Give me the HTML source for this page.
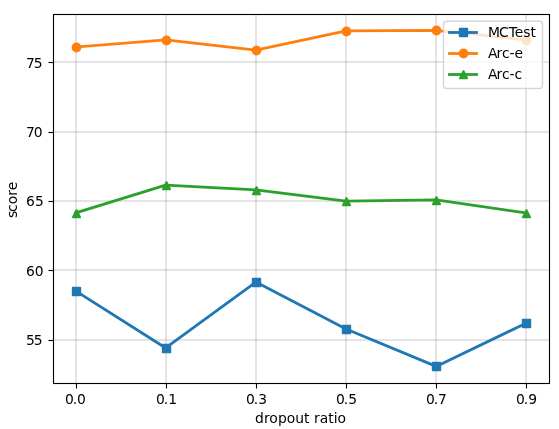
<!DOCTYPE html>
<html lang="en"><head><meta charset="utf-8"><title>score vs dropout ratio</title>
<style>html,body{margin:0;padding:0;background:#fff}svg{display:block}</style></head>
<body>
<svg width="559" height="429" viewBox="0 0 559 429" font-family="'DejaVu Sans', 'Liberation Sans', sans-serif" font-size="13.889px" fill="#000">
<rect width="559" height="429" fill="#fff"/>
<g stroke="#808080" stroke-opacity="0.21" stroke-width="2" fill="none">
<path d="M76 14.5V383.5"/>
<path d="M166 14.5V383.5"/>
<path d="M256 14.5V383.5"/>
<path d="M346 14.5V383.5"/>
<path d="M436 14.5V383.5"/>
<path d="M526 14.5V383.5"/>
<path d="M53.5 340H549.5"/>
<path d="M53.5 270H549.5"/>
<path d="M53.5 201H549.5"/>
<path d="M53.5 132H549.5"/>
<path d="M53.5 62H549.5"/>
</g>
<g stroke="#000" stroke-width="1.11" fill="none">
<path d="M76.5 383.5v5"/>
<path d="M166.5 383.5v5"/>
<path d="M256.5 383.5v5"/>
<path d="M346.5 383.5v5"/>
<path d="M436.5 383.5v5"/>
<path d="M526.5 383.5v5"/>
<path d="M53.5 340.5h-5"/>
<path d="M53.5 270.5h-5"/>
<path d="M53.5 201.5h-5"/>
<path d="M53.5 132.5h-5"/>
<path d="M53.5 62.5h-5"/>
</g>
<clipPath id="c"><rect x="53.5" y="14.5" width="496.0" height="369.0"/></clipPath>
<g clip-path="url(#c)">
<polyline points="75.55,290.9 165.71,347.98 255.87,282.02 346.03,329 436.19,366.4 526.35,323.05" fill="none" stroke="#1f77b4" stroke-width="2.78" stroke-linejoin="round" stroke-linecap="square"/>
<rect x="72.5" y="287.5" width="8" height="8" fill="#1f77b4" stroke="#1f77b4" stroke-width="1.4" stroke-linejoin="bevel"/>
<rect x="162.5" y="344.5" width="8" height="8" fill="#1f77b4" stroke="#1f77b4" stroke-width="1.4" stroke-linejoin="bevel"/>
<rect x="252.5" y="278.5" width="8" height="8" fill="#1f77b4" stroke="#1f77b4" stroke-width="1.4" stroke-linejoin="bevel"/>
<rect x="342.5" y="325.5" width="8" height="8" fill="#1f77b4" stroke="#1f77b4" stroke-width="1.4" stroke-linejoin="bevel"/>
<rect x="432.5" y="362.5" width="8" height="8" fill="#1f77b4" stroke="#1f77b4" stroke-width="1.4" stroke-linejoin="bevel"/>
<rect x="522.5" y="319.5" width="8" height="8" fill="#1f77b4" stroke="#1f77b4" stroke-width="1.4" stroke-linejoin="bevel"/>
<polyline points="75.55,47.1 165.71,39.9 255.87,50.1 346.03,30.9 436.19,30.35 526.35,39.95" fill="none" stroke="#ff7f0e" stroke-width="2.78" stroke-linejoin="round" stroke-linecap="square"/>
<circle cx="76.5" cy="47.5" r="4.91" fill="#ff7f0e"/>
<circle cx="166.5" cy="40.5" r="4.91" fill="#ff7f0e"/>
<circle cx="256.5" cy="50.5" r="4.91" fill="#ff7f0e"/>
<circle cx="346.5" cy="31.5" r="4.91" fill="#ff7f0e"/>
<circle cx="436.5" cy="30.5" r="4.91" fill="#ff7f0e"/>
<circle cx="526.5" cy="40.5" r="4.91" fill="#ff7f0e"/>
<polyline points="75.55,212.9 165.71,185.12 255.87,189.8 346.03,201.2 436.19,199.9 526.35,213" fill="none" stroke="#2ca02c" stroke-width="2.78" stroke-linejoin="round" stroke-linecap="square"/>
<path d="M76.5 209.53L72.53 217.47L80.47 217.47Z" fill="#2ca02c" stroke="#2ca02c" stroke-width="1.51" stroke-linejoin="bevel"/>
<path d="M166.5 181.53L162.53 189.47L170.47 189.47Z" fill="#2ca02c" stroke="#2ca02c" stroke-width="1.51" stroke-linejoin="bevel"/>
<path d="M256.5 186.53L252.53 194.47L260.47 194.47Z" fill="#2ca02c" stroke="#2ca02c" stroke-width="1.51" stroke-linejoin="bevel"/>
<path d="M346.5 197.53L342.53 205.47L350.47 205.47Z" fill="#2ca02c" stroke="#2ca02c" stroke-width="1.51" stroke-linejoin="bevel"/>
<path d="M436.5 196.53L432.53 204.47L440.47 204.47Z" fill="#2ca02c" stroke="#2ca02c" stroke-width="1.51" stroke-linejoin="bevel"/>
<path d="M526.5 209.53L522.53 217.47L530.47 217.47Z" fill="#2ca02c" stroke="#2ca02c" stroke-width="1.51" stroke-linejoin="bevel"/>
</g>
<rect x="53.5" y="14.5" width="496.0" height="369.0" fill="none" stroke="#000" stroke-width="1.11" stroke-linejoin="miter"/>
<rect x="443.5" y="21.2" width="99" height="67.3" rx="3.33" ry="3.33" fill="#fff" fill-opacity="0.79" stroke="#ccc" stroke-opacity="0.8" stroke-width="1.39"/>
<path d="M449.52 32.5H476.48" stroke="#1f77b4" stroke-width="2.81" stroke-linecap="square" fill="none"/>
<rect x="459.5" y="28.5" width="8" height="8" fill="#1f77b4" stroke="#1f77b4" stroke-width="1.4" stroke-linejoin="bevel"/>
<path d="M449.52 53.5H476.48" stroke="#ff7f0e" stroke-width="2.81" stroke-linecap="square" fill="none"/>
<circle cx="463.5" cy="53.5" r="4.91" fill="#ff7f0e"/>
<path d="M449.52 74.5H476.48" stroke="#2ca02c" stroke-width="2.81" stroke-linecap="square" fill="none"/>
<path d="M463.5 70.53L459.53 78.47L467.47 78.47Z" fill="#2ca02c" stroke="#2ca02c" stroke-width="1.51" stroke-linejoin="bevel"/>
<text x="64.89 72.64 76.89" y="403.5">0.0</text>
<text x="155.95 163.7 168.2" y="403.5">0.1</text>
<text x="245.88 253.63 258.13" y="403.5">0.3</text>
<text x="335.93 343.68 348.18" y="403.5">0.5</text>
<text x="425.99 433.74 437.99" y="403.5">0.7</text>
<text x="515.92 523.67 528.17" y="403.5">0.9</text>
<text x="25.89 33.64" y="344.6">55</text>
<text x="25.89 34.64" y="275.6">60</text>
<text x="25.89 34.89" y="205.6">65</text>
<text x="25.89 33.64" y="136.6">70</text>
<text x="25.89 33.64" y="67.6">75</text>
<text x="254.93 263.93 269.18 277.93 286.68 295.18 303.93 309.43 313.93 319.68 328.18 333.68 337.43" y="422.6">dropout ratio</text>
<text transform="translate(16.55 199) rotate(-90)" x="-19.04 -13.04 -5.29 3.21 8.71" y="0">score</text>
<text x="487.88 498.88 508.75 514.75 523.25 530.38" y="36.6">MCTest</text>
<text x="487.88 496.38 501.88 509.38 514.38" y="57.6">Arc-e</text>
<text x="487.88 496.38 501.88 509.38 514.38" y="78.6">Arc-c</text>
</svg>
</body></html>
